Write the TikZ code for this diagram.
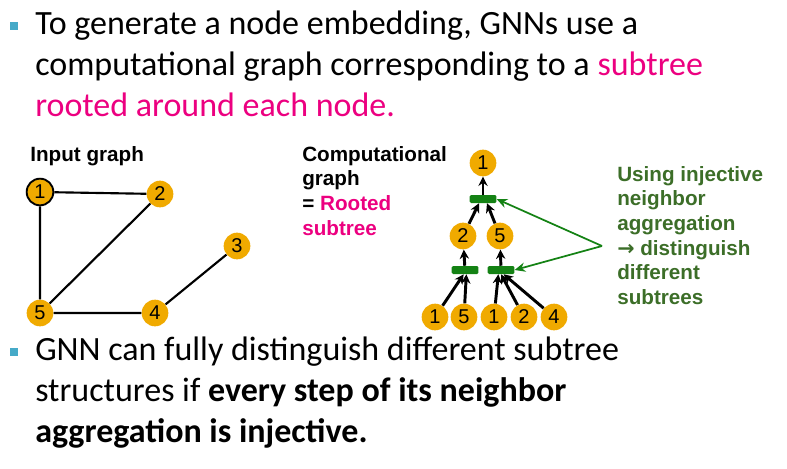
\documentclass[tikz,border=0pt]{standalone}
\usepackage{fontspec}
\setmainfont{Carlito}
\newfontfamily\arialf{Liberation Sans}
\usetikzlibrary{arrows.meta}
\definecolor{pinkc}{RGB}{236,0,128}
\definecolor{gold}{RGB}{240,170,0}
\definecolor{aggg}{RGB}{20,130,20}
\definecolor{txtg}{RGB}{60,110,40}
\definecolor{bul}{RGB}{70,170,200}
\begin{document}
\begin{tikzpicture}[x=0.75pt,y=-0.75pt,
 v/.style={circle,fill=gold,minimum size=20pt,inner sep=0pt,font=\arialf\fontsize{15}{15}\selectfont},
 agg/.style={fill=aggg,rounded corners=1pt,minimum width=20pt,minimum height=6pt,inner sep=0pt},
 ed/.style={line width=1.6pt},
 ar/.style={line width=2.2pt,-{Stealth[length=7pt,width=7pt]}},
 gar/.style={draw=aggg,line width=1.3pt,-{Stealth[length=8pt,width=7pt]}},
 big/.style={font=\fontsize{25.5}{30.5}\selectfont,anchor=north west,inner sep=0pt,align=left},
 lab/.style={font=\arialf\bfseries\fontsize{15.5}{18.5}\selectfont,anchor=north west,inner sep=0pt,align=left}]
\useasboundingbox (0,0) rectangle (787,468);
\fill[bul] (10,22) rectangle (18,30);
\node[big] (t1) at (35,11) {To generate a node embedding, GNNs use a\\computational graph corresponding to a \textcolor{pinkc}{subtree}\\\textcolor{pinkc}{rooted around each node.}};
\fill[bul] (10,348) rectangle (18,356);
\node[big] (t2) at (35,337) {GNN can fully distinguish different subtree\\structures if \textbf{every step of its neighbor}\\\textbf{aggregation is injective.}};
\node[lab] (lin) at (30,146) {Input graph};
\node[lab] (lcg) at (302,146) {Computational\\graph\\= \textcolor{pinkc}{Rooted}\\\textcolor{pinkc}{subtree}};
\node[lab,text=txtg] (lgr) at (617,166) {Using injective\\neighbor\\aggregation\\{\fontspec{DejaVu Sans}[BoldFont=* Bold]→} distinguish\\different\\subtrees};
% input graph
\node[v,draw=black,line width=1.4pt] (a1) at (40,192) {1};
\node[v] (a2) at (160,194) {2};
\node[v] (a3) at (237,246) {3};
\node[v] (a5) at (40,313) {5};
\node[v] (a4) at (155,313) {4};
\draw[ed] (a1)--(a2) (a1)--(a5) (a5)--(a2) (a5)--(a4) (a4)--(a3);
% computational graph
\node[v] (c1) at (483,163) {1};
\node[agg] (g1) at (483,199) {};
\node[v] (c2) at (463,236) {2};
\node[v] (c5) at (500,236) {5};
\node[agg] (g2) at (465,270) {};
\node[agg] (g3) at (501,270) {};
\node[v] (l1) at (435,317) {1};
\node[v] (l2) at (464,317) {5};
\node[v] (l3) at (494,317) {1};
\node[v] (l4) at (524,317) {2};
\node[v] (l5) at (554,317) {4};
\draw[ar] (g1)--(c1);
\draw[ar] (c2)--([xshift=-3pt]g1.south);
\draw[ar] (c5)--([xshift=3pt]g1.south);
\draw[ar] (g2)--(c2);
\draw[ar] (g3)--(c5);
\draw[ar] (l1)--([xshift=-1pt]g2.south);
\draw[ar] (l2)--([xshift=1pt]g2.south);
\draw[ar] (l3)--([xshift=-2pt]g3.south);
\draw[ar] (l4)--(g3.south);
\draw[ar] (l5)--([xshift=2pt]g3.south);
\coordinate (src) at (602,246);
\draw[gar] (src)--(g1.east);
\draw[gar] (src)--(g3.east);
\end{tikzpicture}
\end{document}
